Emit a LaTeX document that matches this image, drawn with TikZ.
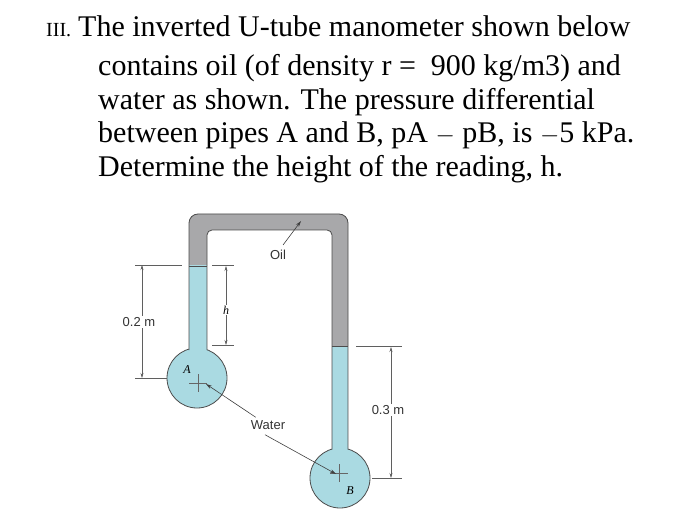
\documentclass[tikz,border=0pt]{standalone}
\usepackage{fontspec}
\setmainfont{Liberation Serif}
\setsansfont{Liberation Sans}
\usetikzlibrary{arrows.meta}
\definecolor{wat}{RGB}{170,218,226}
\definecolor{oilc}{RGB}{168,168,170}
\definecolor{dimc}{RGB}{95,95,95}
\tikzset{
 ttl/.style={anchor=base west,inner sep=0pt,font=\fontsize{30}{30}\selectfont},
 lbl/.style={font=\sffamily\fontsize{13}{13}\selectfont,text=black!80,inner sep=1pt},
 dimline/.style={draw=dimc,line width=0.5pt},
 dimarr/.style={dimc,line width=0.5pt,{Stealth[length=5pt,width=3pt]}-{Stealth[length=5pt,width=3pt]}},
 ptr/.style={black!75,line width=0.6pt,-{Stealth[length=6pt,width=3.5pt]}},
 outl/.style={draw=black!70,line width=0.8pt}
}
\begin{document}
\begin{tikzpicture}[x=1pt,y=-1pt]
\useasboundingbox (0,0) rectangle (700,526);
% title
\node[ttl] (t0) at (46,37) {\fontsize{20}{20}\selectfont III.};
\node[ttl] (t1) at (78,37) {The inverted U-tube manometer shown below};
\node[ttl] (t2) at (98,76) {contains oil (of density r =\ \ 900 kg/m3) and};
\node[ttl] (t3) at (98,110) {water as shown. The pressure differential};
\node[ttl] (t4) at (98,143) {between pipes A and B, pA $-$ pB, is $-$5 kPa.};
\node[ttl] (t5) at (98,177) {Determine the height of the reading, h.};
% oil region
\fill[oilc] (189,266) [rounded corners=9] -- (189,214) -- (348,214) [sharp corners] -- (348,346) -- (332,346) [rounded corners=5] -- (332,230) -- (207,230) [sharp corners] -- (207,266) -- cycle;
% water columns
\fill[wat] (189,265) rectangle (207,360);
\fill[wat] (332,346) rectangle (348,460);
% bulbs
\node[circle,minimum size=60pt,fill=wat,outl] (A) at (197,378) {};
\node[circle,minimum size=60pt,fill=wat,outl] (B) at (340,478) {};
\fill[wat] (189.4,345) rectangle (206.6,355);
\fill[wat] (332.4,445) rectangle (347.6,455);
% tube outline
\draw[outl] (189,350) [rounded corners=9] -- (189,214) -- (348,214) [sharp corners] -- (348,449.5);
\draw[outl] (207,350) [rounded corners=5] -- (207,230) -- (332,230) [sharp corners] -- (332,449.5);
\draw[outl] (189,266) -- (207,266);
\draw[outl] (332,346) -- (348,346);
% crosses
\draw[black!60,line width=0.5pt] (189,383) -- (207,383) (198,374) -- (198,392);
\draw[black!60,line width=0.5pt] (330,473) -- (348,473) (339,464) -- (339,482);
\node[font=\itshape\fontsize{12}{12}\selectfont] (la) at (187,370) {A};
\node[font=\itshape\fontsize{12}{12}\selectfont] (lb) at (350,491) {B};
% dimension 0.2 m
\coordinate (d1a) at (142,265); \coordinate (d1b) at (142,378);
\draw[dimline] (135,265) -- (182,265) (135,378) -- (167,378);
\draw[dimarr] (d1a) -- (d1b);
\node[lbl,fill=white] (l02) at (139,322) {0.2 m};
% h
\coordinate (h1) at (226,266); \coordinate (h2) at (226,345);
\draw[dimline] (212,265) -- (234,265) (212,345) -- (234,345);
\draw[dimarr] (h1) -- (h2);
\node[font=\itshape\fontsize{12}{12}\selectfont,fill=white,inner sep=1pt] (lh) at (226,310) {h};
% 0.3 m
\coordinate (d3a) at (391,347); \coordinate (d3b) at (391,478);
\draw[dimline] (356,346) -- (402,346) (372,478) -- (402,478);
\draw[dimarr] (d3a) -- (d3b);
\node[lbl,fill=white] (l03) at (388,410) {0.3 m};
% labels
\node[lbl] (oil) at (278,255) {Oil};
\coordinate (oilt) at (301,221);
\draw[ptr] (283,245) -- (oilt);
\node[lbl] (water) at (268,425) {Water};
\coordinate (wa) at (206,384); \coordinate (wb) at (336,474);
\draw[ptr] (water.north west) ++(6,-2) -- (wa);
\draw[ptr] (water.south) ++(-3,4) -- (wb);
\end{tikzpicture}
\end{document}
